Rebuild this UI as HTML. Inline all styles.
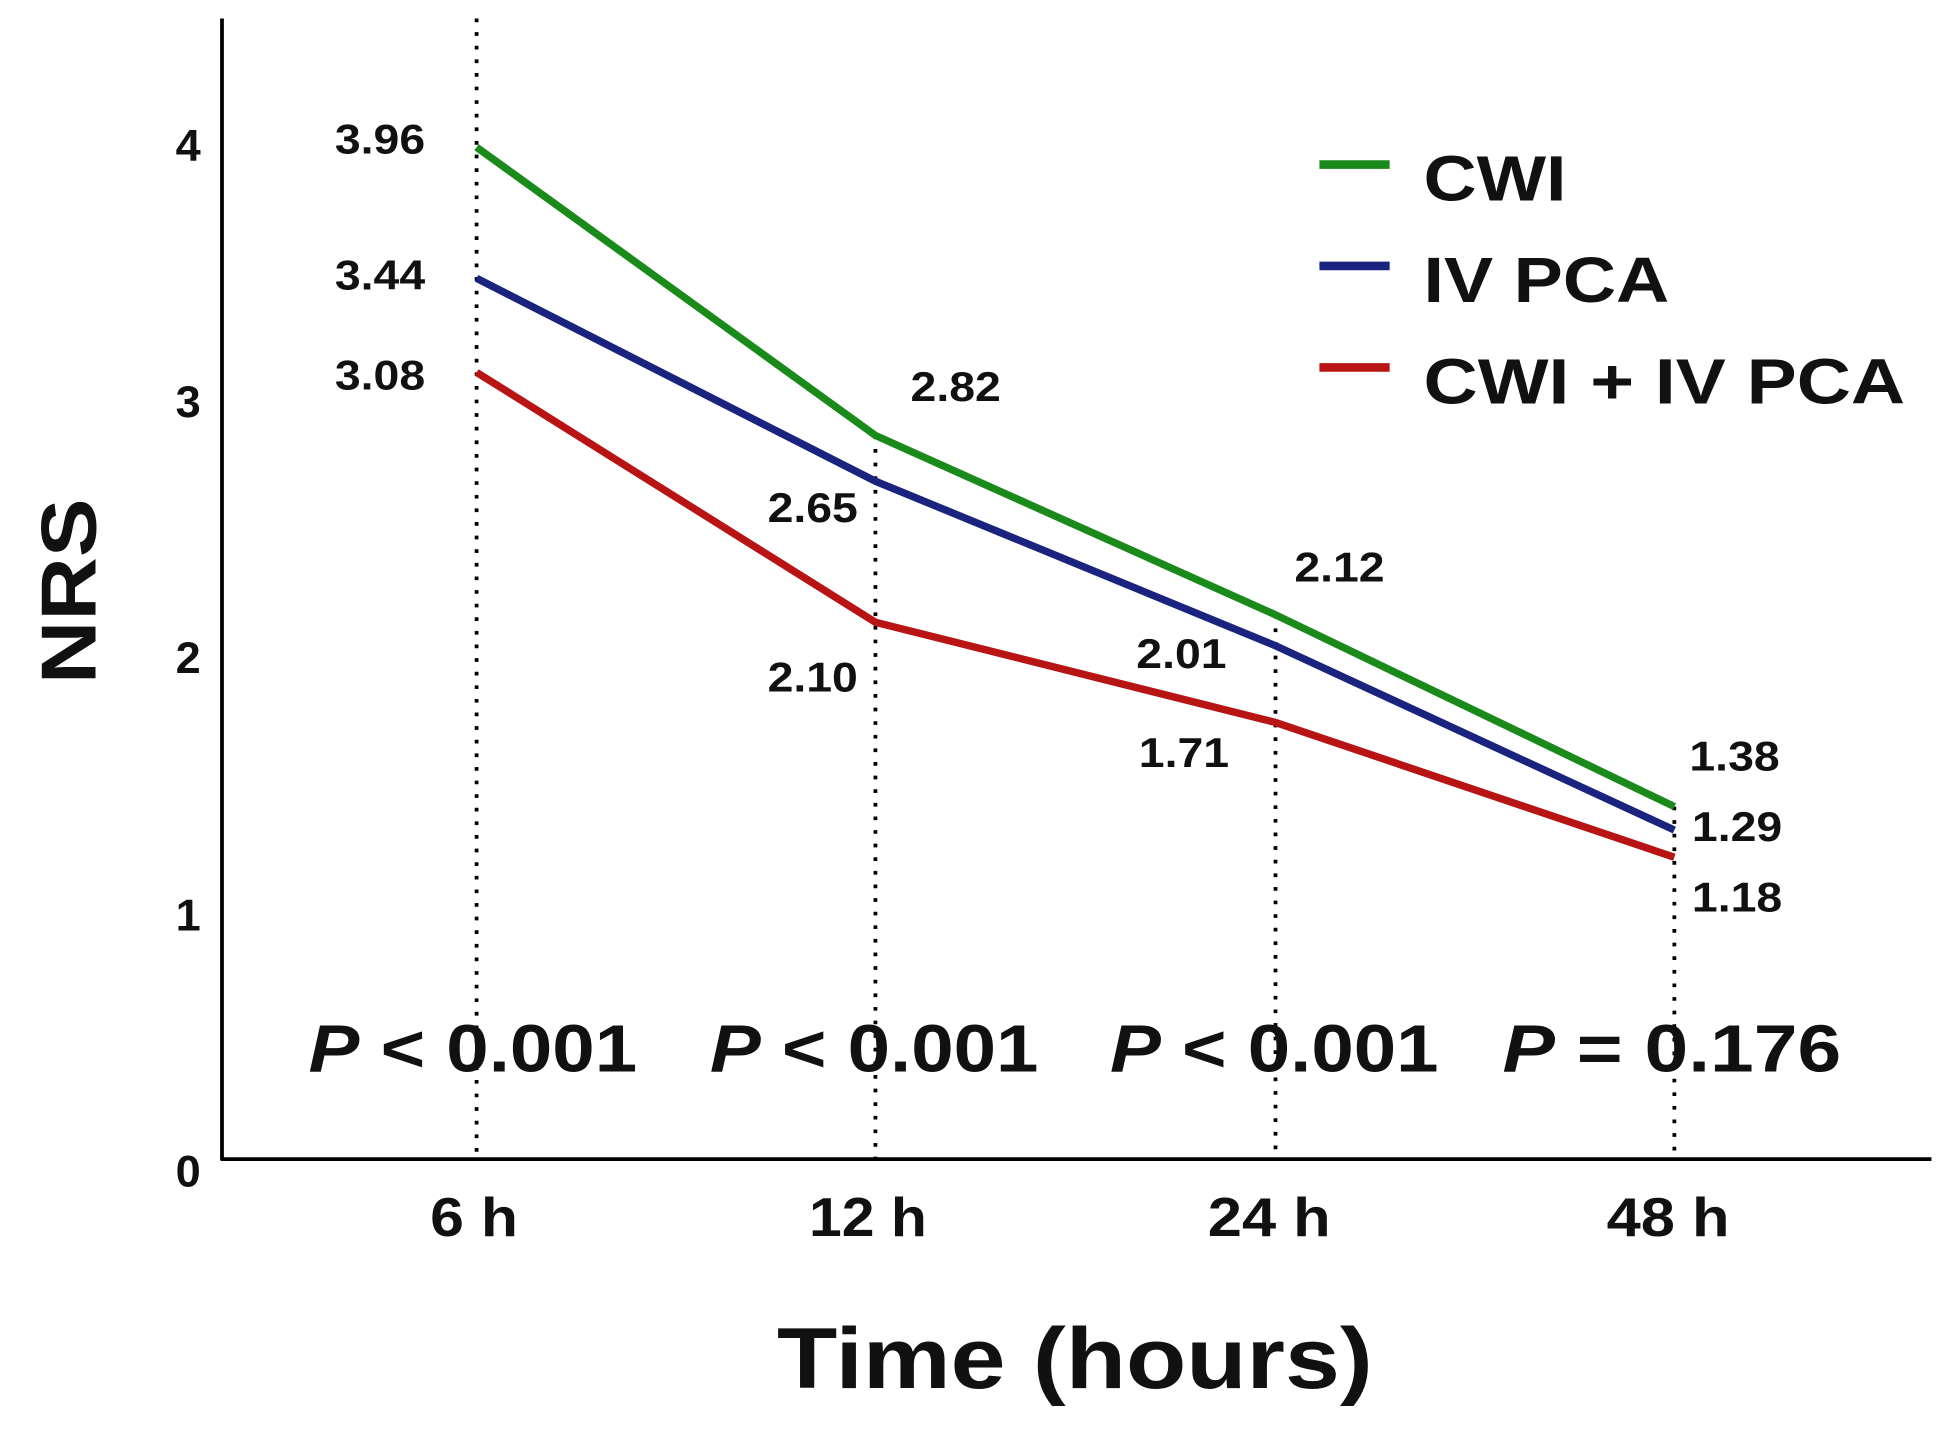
<!DOCTYPE html>
<html><head><style>body{margin:0;background:#fff}svg{display:block}</style></head><body>
<svg width="1944" height="1435" viewBox="0 0 1550 1160" preserveAspectRatio="none" xmlns="http://www.w3.org/2000/svg" font-family="Liberation Sans, sans-serif" font-weight="bold">
<rect width="1550" height="1160" fill="#fff"/>
<g stroke="#000" stroke-width="3" stroke-dasharray="3,8">
<line x1="380" y1="15" x2="380" y2="937"/>
<line x1="698" y1="352" x2="698" y2="937"/>
<line x1="1017" y1="497" x2="1017" y2="937"/>
<line x1="1335" y1="652" x2="1335" y2="937"/>
</g>
<g stroke="#000" stroke-width="3" fill="none">
<line x1="177" y1="15" x2="177" y2="938"/>
<line x1="176" y1="937" x2="1540" y2="937"/>
</g>
<g fill="none" stroke-width="6">
<polyline stroke="#1a8a1a" points="380,119 698,352 1017,497 1335,652"/>
<polyline stroke="#1a237e" points="380,225 698,389 1017,522 1335,671"/>
<polyline stroke="#b81414" points="380,301 698,503 1017,584 1335,693"/>
</g>
<g font-size="36" text-anchor="middle" fill="#111">
<text x="150" y="130">4</text><text x="150" y="337">3</text><text x="150" y="544">2</text><text x="150" y="752">1</text><text x="150" y="959">0</text>
</g>
<g font-size="34" text-anchor="middle" fill="#111">
<text x="303" y="124" textLength="72" lengthAdjust="spacingAndGlyphs">3.96</text><text x="303" y="234" textLength="72" lengthAdjust="spacingAndGlyphs">3.44</text><text x="303" y="315" textLength="72" lengthAdjust="spacingAndGlyphs">3.08</text>
<text x="762" y="324" textLength="72" lengthAdjust="spacingAndGlyphs">2.82</text><text x="648" y="422" textLength="72" lengthAdjust="spacingAndGlyphs">2.65</text><text x="648" y="559" textLength="72" lengthAdjust="spacingAndGlyphs">2.10</text>
<text x="1068" y="470" textLength="72" lengthAdjust="spacingAndGlyphs">2.12</text><text x="942" y="540" textLength="72" lengthAdjust="spacingAndGlyphs">2.01</text><text x="944" y="620" textLength="72" lengthAdjust="spacingAndGlyphs">1.71</text>
<text x="1383" y="623" textLength="72" lengthAdjust="spacingAndGlyphs">1.38</text><text x="1385" y="680" textLength="72" lengthAdjust="spacingAndGlyphs">1.29</text><text x="1385" y="737" textLength="72" lengthAdjust="spacingAndGlyphs">1.18</text>
</g>
<g font-size="44" text-anchor="middle" fill="#111">
<text x="378" y="999" textLength="70" lengthAdjust="spacingAndGlyphs">6 h</text><text x="692" y="999" textLength="94" lengthAdjust="spacingAndGlyphs">12 h</text><text x="1012" y="999" textLength="98" lengthAdjust="spacingAndGlyphs">24 h</text><text x="1330" y="999" textLength="98" lengthAdjust="spacingAndGlyphs">48 h</text>
</g>
<g font-size="54" fill="#111">
<text x="246" y="866" textLength="262" lengthAdjust="spacingAndGlyphs"><tspan font-style="italic">P</tspan> &lt; 0.001</text>
<text x="566" y="866" textLength="262" lengthAdjust="spacingAndGlyphs"><tspan font-style="italic">P</tspan> &lt; 0.001</text>
<text x="885" y="866" textLength="262" lengthAdjust="spacingAndGlyphs"><tspan font-style="italic">P</tspan> &lt; 0.001</text>
<text x="1198" y="866" textLength="270" lengthAdjust="spacingAndGlyphs"><tspan font-style="italic">P</tspan> = 0.176</text>
</g>
<g stroke-width="7">
<line x1="1052" y1="133" x2="1108" y2="133" stroke="#1a8a1a"/>
<line x1="1052" y1="215" x2="1108" y2="215" stroke="#1a237e"/>
<line x1="1052" y1="297" x2="1108" y2="297" stroke="#b81414"/>
</g>
<g font-size="52" fill="#111">
<text x="1135" y="162" textLength="114" lengthAdjust="spacingAndGlyphs">CWI</text><text x="1135" y="244" textLength="196" lengthAdjust="spacingAndGlyphs">IV PCA</text><text x="1135" y="326" textLength="384" lengthAdjust="spacingAndGlyphs">CWI + IV PCA</text>
</g>
<text x="857" y="1122" font-size="70" text-anchor="middle" fill="#111" textLength="475" lengthAdjust="spacingAndGlyphs">Time (hours)</text>
<text transform="translate(76,478) rotate(-90)" font-size="62" text-anchor="middle" fill="#111" textLength="150" lengthAdjust="spacingAndGlyphs">NRS</text>
</svg>
</body></html>
